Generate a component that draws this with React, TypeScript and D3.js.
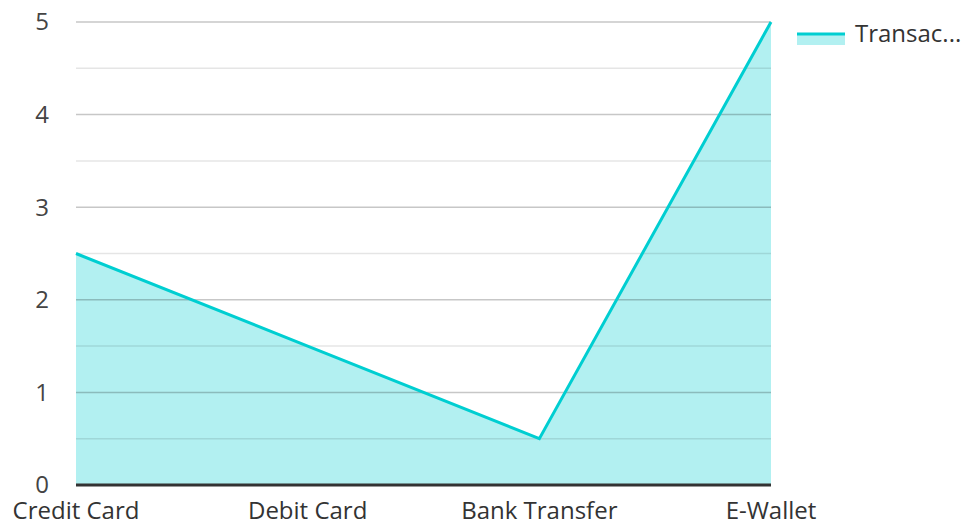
import React, { useEffect, useRef } from "react";
import * as d3 from "d3";

const categories = ["Credit Card", "Debit Card", "Bank Transfer", "E-Wallet"];
const transactions = [2.5, 1.5, 0.5, 5];
const yTicks = [0, 1, 2, 3, 4, 5];
const minorTicks = [0.5, 1.5, 2.5, 3.5, 4.5];
const seriesName = "Transac...";

const W = 964;
const H = 524;
const color = "#00CED1";

export default function App() {
  const ref = useRef<SVGSVGElement>(null);

  useEffect(() => {
    const svg = d3.select(ref.current);
    svg.selectAll("*").remove();

    const left = 76, right = 771, top = 22, bottom = 485;

    const x = d3.scalePoint<string>().domain(categories).range([left, right]).padding(0);
    const y = d3.scaleLinear().domain([0, 5]).range([bottom, top]);

    const data = categories.map((c, i) => ({ c, v: transactions[i] }));

    // area fill
    const area = d3.area<{ c: string; v: number }>()
      .x((d) => x(d.c)!)
      .y0(y(0))
      .y1((d) => y(d.v));
    svg.append("path")
      .datum(data)
      .attr("d", area)
      .attr("fill", color)
      .attr("fill-opacity", 0.3);

    // grid lines
    svg.append("g")
      .selectAll("line")
      .data(minorTicks)
      .enter()
      .append("line")
      .attr("x1", left)
      .attr("x2", right)
      .attr("y1", (d) => y(d))
      .attr("y2", (d) => y(d))
      .attr("stroke", "#000")
      .attr("stroke-opacity", 0.1)
      .attr("stroke-width", 1.5);

    svg.append("g")
      .selectAll("line")
      .data(yTicks.filter((t) => t > 0))
      .enter()
      .append("line")
      .attr("x1", left)
      .attr("x2", right)
      .attr("y1", (d) => y(d))
      .attr("y2", (d) => y(d))
      .attr("stroke", "#000")
      .attr("stroke-opacity", 0.22)
      .attr("stroke-width", 1.5);

    // y labels
    svg.append("g")
      .selectAll("text")
      .data(yTicks)
      .enter()
      .append("text")
      .attr("x", 49)
      .attr("y", (d) => y(d))
      .attr("dy", "0.35em")
      .attr("text-anchor", "end")
      .attr("font-family", "Open Sans")
      .attr("font-size", 24)
      .attr("fill", "#444")
      .text((d) => d);

    // line
    const line = d3.line<{ c: string; v: number }>()
      .x((d) => x(d.c)!)
      .y((d) => y(d.v));
    svg.append("path")
      .datum(data)
      .attr("d", line)
      .attr("fill", "none")
      .attr("stroke", color)
      .attr("stroke-width", 3);

    // x axis line
    svg.append("line")
      .attr("x1", left)
      .attr("x2", right)
      .attr("y1", bottom)
      .attr("y2", bottom)
      .attr("stroke", "#333")
      .attr("stroke-width", 3);

    // x labels
    svg.append("g")
      .selectAll("text")
      .data(categories)
      .enter()
      .append("text")
      .attr("x", (d) => x(d)!)
      .attr("y", 519)
      .attr("text-anchor", "middle")
      .attr("font-family", "Open Sans")
      .attr("font-size", 24)
      .attr("fill", "#333")
      .text((d) => d);

    // legend
    const lg = svg.append("g");
    lg.append("rect")
      .attr("x", 797)
      .attr("y", 33)
      .attr("width", 48)
      .attr("height", 12)
      .attr("fill", color)
      .attr("fill-opacity", 0.3);
    lg.append("line")
      .attr("x1", 797)
      .attr("x2", 845)
      .attr("y1", 34)
      .attr("y2", 34)
      .attr("stroke", color)
      .attr("stroke-width", 3);
    lg.append("text")
      .attr("x", 855)
      .attr("y", 42)
      .attr("font-family", "Open Sans")
      .attr("font-size", 24)
      .attr("fill", "#333")
      .text(seriesName);
  }, []);

  return (
    <svg
      ref={ref}
      width={W}
      height={H}
      style={{ position: "absolute", left: 0, top: 0, background: "#fff" }}
    />
  );
}
